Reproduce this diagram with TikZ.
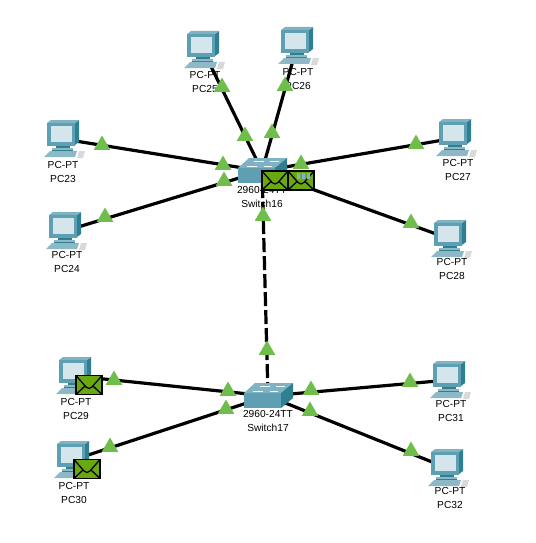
\documentclass[tikz,border=0pt]{standalone}
\usepackage{fontspec}
\setmainfont{Liberation Sans}
\usepackage{xcolor}
\usetikzlibrary{shapes.geometric}
\definecolor{lampgreen}{HTML}{6FBE4B}
\definecolor{mailgreen}{HTML}{6AA80F}
\definecolor{bodyblue}{HTML}{5F9FB4}
\definecolor{sideblue}{HTML}{2F7F93}
\definecolor{topblue}{HTML}{7FB2C2}
\definecolor{screenblue}{HTML}{D5E5EC}
\definecolor{padgray}{HTML}{8DB8C6}

\begin{document}
\begin{tikzpicture}[
        x=1pt, y=-1pt,
        lamp/.style={regular polygon, regular polygon sides=3, fill=lampgreen,
                     minimum size=19pt, inner sep=0pt},
        tag/.style={align=center, inner sep=0pt,
                    font=\fontsize{10.2}{14.5}\selectfont},
        link/.style={line width=3.2pt, black},
        uplink/.style={link, dash pattern=on 14pt off 4pt},
        pcicon/.pic={
            \fill[sideblue] (12,-16) -- (16,-19) -- (16,3) -- (12,6) -- cycle;
            \fill[topblue] (-16,-16) -- (-12,-19) -- (16,-19) -- (12,-16) -- cycle;
            \fill[bodyblue] (-16,-16) rectangle (12,7);
            \fill[screenblue] (-12,-13) rectangle (9,3);
            \fill[sideblue] (-7,7) rectangle (7,9);
            \fill[padgray] (-11,9) rectangle (10,11);
            \fill[sideblue] (-11,11) rectangle (10,12);
            \fill[padgray] (-13,12) -- (14,12) -- (12,18) -- (-19,18) -- cycle;
            \fill[gray!30] (16,12) -- (22,12) -- (20,19) -- (14,19) -- cycle;
        },
        switchicon/.pic={
            \fill[topblue] (-24,-3) -- (-13,-13) -- (25,-13) -- (13,-3) -- cycle;
            \fill[bodyblue] (-24,-3) rectangle (13,12);
            \fill[sideblue] (13,-3) -- (25,-13) -- (25,2) -- (13,12) -- cycle;
            \draw[white, line width=0.8pt] (-8,-10) -- (2,-10) (8,-10) -- (17,-10)
                (-15,-5) -- (-5,-5) (2,-5) -- (10,-5);
        },
        mailicon/.pic={
            \filldraw[fill=mailgreen, draw=black, line width=1.6pt] (-13,-9.5) rectangle (13,9.5);
            \draw[black, line width=1.3pt] (-13,-9.5) -- (-3,2) .. controls (-1,4) and (1,4) .. (3,2) -- (13,-9.5)
                (-13,9.5) -- (-4,1) (13,9.5) -- (4,1);
        }
    ]
    \useasboundingbox (0,0) rectangle (535,543);

    \coordinate (pc23) at (63,139);
    \coordinate (pc24) at (65,231);
    \coordinate (pc25) at (203,50);
    \coordinate (pc26) at (297,46);
    \coordinate (pc27) at (455,138);
    \coordinate (pc28) at (450,239);
    \coordinate (pc29) at (75,376);
    \coordinate (pc30) at (73,460);
    \coordinate (pc31) at (449,380);
    \coordinate (pc32) at (447,468);
    \coordinate (switch16) at (262,171);
    \coordinate (switch17) at (268,396);

    \draw[link] (pc23) -- (switch16);
    \draw[link] (pc24) -- (switch16);
    \draw[link] (pc25) -- (switch16);
    \draw[link] (pc26) -- (switch16);
    \draw[link] (pc27) -- (switch16);
    \draw[link] (pc28) -- (switch16);
    \draw[link] (pc29) -- (switch17);
    \draw[link] (pc30) -- (switch17);
    \draw[link] (pc31) -- (switch17);
    \draw[link] (pc32) -- (switch17);
    \draw[uplink] (switch17) -- (switch16);

    \pic at (pc23) {pcicon};
    \pic at (pc24) {pcicon};
    \pic at (pc25) {pcicon};
    \pic at (pc26) {pcicon};
    \pic at (pc27) {pcicon};
    \pic at (pc28) {pcicon};
    \pic at (pc29) {pcicon};
    \pic at (pc30) {pcicon};
    \pic at (pc31) {pcicon};
    \pic at (pc32) {pcicon};
    \pic at (switch16) {switchicon};
    \pic at (switch17) {switchicon};

    \node[tag] (tag23) at (63,172) {PC-PT\\PC23};
    \node[tag] (tag24) at (67,262) {PC-PT\\PC24};
    \node[tag] (tag25) at (205,82) {PC-PT\\PC25};
    \node[tag] (tag26) at (298,79) {PC-PT\\PC26};
    \node[tag] (tag27) at (458,170) {PC-PT\\PC27};
    \node[tag] (tag28) at (452,269) {PC-PT\\PC28};
    \node[tag] (tag29) at (76,409) {PC-PT\\PC29};
    \node[tag] (tag30) at (74,493) {PC-PT\\PC30};
    \node[tag] (tag31) at (451,411) {PC-PT\\PC31};
    \node[tag] (tag32) at (450,498) {PC-PT\\PC32};
    \node[tag] (tag16) at (262,197) {2960-24TT\\Switch16};
    \node[tag] (tag17) at (268,421) {2960-24TT\\Switch17};

    \node[lamp] (lamp23) at (102,145) {};
    \node[lamp] (lamp24) at (105,217) {};
    \node[lamp] (lamp25) at (222,87) {};
    \node[lamp] (lamp26) at (285,86) {};
    \node[lamp] (lamp27) at (416,144) {};
    \node[lamp] (lamp28) at (411,223) {};
    \node[lamp] (lamp29) at (114,380) {};
    \node[lamp] (lamp30) at (110,447) {};
    \node[lamp] (lamp31) at (410,382) {};
    \node[lamp] (lamp32) at (411,451) {};
    \node[lamp] (lampa) at (223,165) {};
    \node[lamp] (lampb) at (224,181) {};
    \node[lamp] (lampc) at (245,136) {};
    \node[lamp] (lampd) at (272,133) {};
    \node[lamp] (lampe) at (301,164) {};
    \node[lamp] (lampf) at (263,216) {};
    \node[lamp] (lampg) at (267,350) {};
    \node[lamp] (lamph) at (228,391) {};
    \node[lamp] (lampi) at (226,409) {};
    \node[lamp] (lampj) at (311,390) {};
    \node[lamp] (lampk) at (310,411) {};

    \pic at (275,180.5) {mailicon};
    \pic at (301,180.5) {mailicon};
    \fill[topblue] (297,173) rectangle (300,179) (302,173) rectangle (305,179) (307,173) rectangle (310,179);
    \pic at (89,385) {mailicon};
    \pic at (87,469) {mailicon};
\end{tikzpicture}
\end{document}
